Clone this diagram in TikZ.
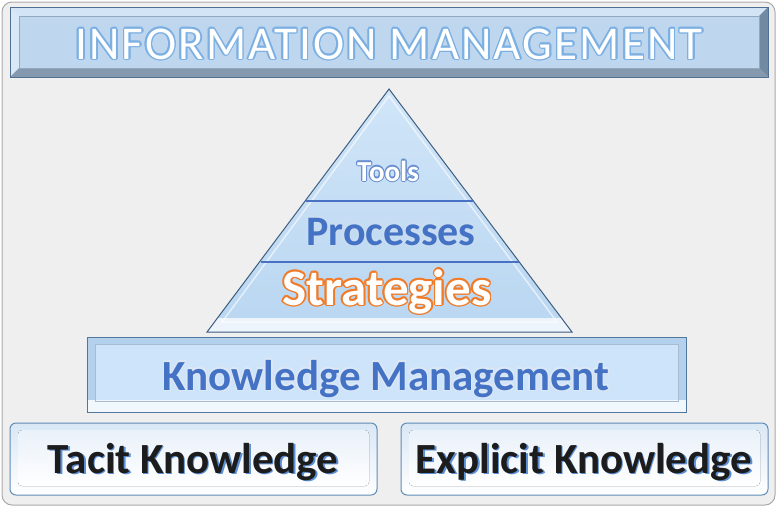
\documentclass[tikz,border=0pt]{standalone}
\usepackage{fontspec}
\setmainfont{Carlito}
\usetikzlibrary{calc}

\definecolor{bgfill}{HTML}{EFEFEF}
\definecolor{bgline}{HTML}{A9A9A9}
\definecolor{bface}{HTML}{BFD7EE}
\definecolor{btop}{HTML}{D2E4F5}
\definecolor{bleft}{HTML}{D8E8F7}
\definecolor{bbot}{HTML}{8499AE}
\definecolor{bright}{HTML}{7189A1}
\definecolor{bline}{HTML}{4F7093}
\definecolor{imout}{HTML}{7CB0E3}
\definecolor{pyrtop}{HTML}{D0E5F8}
\definecolor{pyrbot}{HTML}{B9D6F1}
\definecolor{pyrline}{HTML}{3E5E80}
\definecolor{layerline}{HTML}{4A72C4}
\definecolor{txtblue}{HTML}{4472C4}
\definecolor{txtlight}{HTML}{A9C6E8}
\definecolor{orangeout}{HTML}{F07C2A}
\definecolor{kmface}{HTML}{CDE4FA}
\definecolor{kmedge}{HTML}{B3D0EC}
\definecolor{kmline}{HTML}{52779C}
\definecolor{tkline}{HTML}{5F8BB8}
\definecolor{tktop}{HTML}{D9E7F5}
\definecolor{tkface}{HTML}{E9F1F9}
\definecolor{tkshadow}{HTML}{5B8FD6}
\definecolor{tktext}{HTML}{1C1C1C}

% outlined text: #1 radius, #2 outline colour, #3 fill colour, #4 text
\newcommand\outl[4]{%
  \hbox{\foreach \ang in {0,30,...,330}{%
    \pgfmathsetlengthmacro\odx{#1*cos(\ang)}%
    \pgfmathsetlengthmacro\ody{#1*sin(\ang)}%
    \rlap{\kern\odx\raise\ody\hbox{\color{#2}#4}}}%
  \color{#3}#4}}
% shadowed text: #1 shadow colour, #2 main colour, #3 text
\newcommand\shd[3]{%
  \hbox{\rlap{\kern1.6pt\lower1.6pt\hbox{\color{#1}#3}}\color{#2}#3}}

\begin{document}
\begin{tikzpicture}[x=1pt,y=-1pt,
  every node/.style={inner sep=0pt,outer sep=0pt},
  bigtitle/.style={font=\fontsize{47}{50}\selectfont\addfontfeature{LetterSpace=4.6}, anchor=base},
  midlabel/.style={font=\bfseries\fontsize{42}{46}\selectfont, anchor=base},
  kmlabel/.style={font=\bfseries\fontsize{43}{46}\selectfont, anchor=base},
  toplabel/.style={font=\bfseries\fontsize{29}{32}\selectfont, anchor=base},
  stratlabel/.style={font=\bfseries\fontsize{51}{54}\selectfont, anchor=base},
  knowbox/.style={draw=tkline, line width=1pt, rounded corners=6pt, top color=tktop, bottom color=white},
  knowface/.style={rounded corners=4pt, top color=tkface, bottom color=white}]
\useasboundingbox (0,0) rectangle (778,507);

% background panel
\draw[draw=bgline, fill=bgfill, line width=1pt, rounded corners=10pt] (2,2) rectangle (775,505);

% top banner with bevel
\fill[btop] (10,7) -- (768,7) -- (759,16) -- (19,16) -- cycle;
\fill[bleft] (10,7) -- (19,16) -- (19,68) -- (10,77) -- cycle;
\fill[bbot] (10,77) -- (19,68) -- (759,68) -- (768,77) -- cycle;
\fill[bright] (768,7) -- (768,77) -- (759,68) -- (759,16) -- cycle;
\fill[bface] (19,16) rectangle (759,68);
\draw[bline, line width=0.8pt] (10,7) rectangle (768,77);
\draw[bline!60, line width=0.5pt] (19,16) rectangle (759,68);
\node[bigtitle] (im) at (389,59) {\outl{1.7}{imout}{white}{INFORMATION MANAGEMENT}};

% pyramid
\coordinate (apex) at (389,89);
\coordinate (bl) at (207,332);
\coordinate (br) at (572,332);
\shade[top color=pyrtop, bottom color=pyrbot] (apex) -- (br) -- (bl) -- cycle;
\fill[white, opacity=0.75] (217,318) -- (562,318) -- (br) -- (bl) -- cycle;
\draw[white, opacity=0.6, line width=1.5pt] (389,96) -- (557,322) -- (222,322) -- cycle;
\draw[pyrline, line width=1pt, line join=miter] (apex) -- (br) -- (bl) -- cycle;
\coordinate (l1a) at (306,201);
\coordinate (l1b) at (474,201);
\coordinate (l2a) at (261,262);
\coordinate (l2b) at (519,262);
\draw[layerline, line width=1.6pt] (l1a) -- (l1b);
\draw[layerline, line width=1.6pt] (l2a) -- (l2b);
\node[toplabel] (tools) at (388,181) {\outl{1.1}{txtblue!80}{white}{Tools}};
\node[midlabel] (proc) at (391,245) {\outl{1.2}{txtlight!60}{txtblue}{Processes}};
\node[stratlabel] (strat) at (387,305) {\outl{1.7}{orangeout}{white}{Strategies}};

% knowledge management box
\fill[kmedge] (87,337) rectangle (686,412);
\fill[white!70!kmface] (87,400) rectangle (686,412);
\fill[kmface] (95,344) rectangle (678,400);
\draw[kmline, line width=1pt] (87,337) rectangle (686,412);
\draw[kmline!50, line width=0.5pt] (95,344) rectangle (678,401);
\node[kmlabel] (km) at (386,390) {\outl{1.2}{white!60!txtlight}{txtblue}{Knowledge Management}};

% tacit / explicit boxes
\draw[knowbox] (10,423) rectangle (377,495);
\fill[knowface] (18,430) rectangle (369,486);
\node[kmlabel] (tacit) at (193,473) {\shd{tkshadow}{tktext}{Tacit Knowledge}};

\draw[knowbox] (401,423) rectangle (768,495);
\fill[knowface] (409,430) rectangle (760,486);
\node[kmlabel] (explicit) at (584,473) {\shd{tkshadow}{tktext}{Explicit Knowledge}};
\end{tikzpicture}
\end{document}
